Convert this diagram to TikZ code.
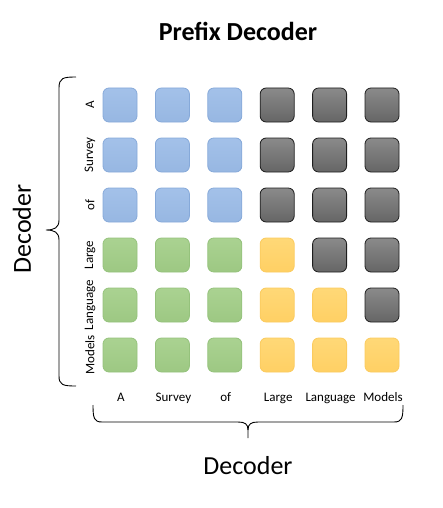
\documentclass[tikz,border=0pt]{standalone}
\usepackage{fontspec}
\setmainfont{Carlito}
\definecolor{bluefill}{HTML}{A3C1E9}
\definecolor{bluebot}{HTML}{97B7E2}
\definecolor{blueline}{HTML}{86A9D9}
\definecolor{greenfill}{HTML}{AAD291}
\definecolor{greenbot}{HTML}{9DC883}
\definecolor{greenline}{HTML}{95C27C}
\definecolor{yelfill}{HTML}{FFD877}
\definecolor{yelbot}{HTML}{FFD064}
\definecolor{yelline}{HTML}{FBCB5E}
\definecolor{grayfill}{HTML}{8A8A8A}
\definecolor{graybot}{HTML}{666666}
\definecolor{grayline}{HTML}{1E1E1E}
\tikzset{
  cell/.style={minimum width=34pt, minimum height=34pt, rounded corners=6pt, inner sep=0pt, line width=0.8pt},
  cb/.style={cell, draw=blueline, top color=bluefill, bottom color=bluebot},
  cg/.style={cell, draw=greenline, top color=greenfill, bottom color=greenbot},
  cy/.style={cell, draw=yelline, top color=yelfill, bottom color=yelbot},
  ck/.style={cell, draw=grayline, top color=grayfill, bottom color=graybot},
  lbl/.style={font=\fontsize{13}{15}\selectfont, inner sep=0pt},
  big/.style={font=\fontsize{26}{30}\selectfont, inner sep=0pt},
  bracel/.style={line width=0.9pt, black}
}
\begin{document}
\begin{tikzpicture}[x=1pt,y=-1pt]
\useasboundingbox (0,0) rectangle (442,508);
\node[big, font=\fontsize{26}{30}\selectfont\bfseries] (title) at (238,31) {Prefix Decoder};
% grid
\foreach \row/\styles [count=\r from 0] in {
  0/{cb,cb,cb,ck,ck,ck},
  1/{cb,cb,cb,ck,ck,ck},
  2/{cb,cb,cb,ck,ck,ck},
  3/{cg,cg,cg,cy,ck,ck},
  4/{cg,cg,cg,cy,cy,ck},
  5/{cg,cg,cg,cy,cy,cy}} {
  \foreach \st [count=\c from 0] in \styles {
    \node[\st] (b\r\c) at ({120+52.4*\c},{105+50*\r}) {};
  }
}
% row labels
\foreach \t [count=\r from 0] in {A,Survey,of,Large,Language,Models} {
  \node[lbl, rotate=90] (r\r) at (90,{105+50*\r}) {\t};
}
% column labels
\foreach \t [count=\c from 0] in {A,Survey,of,Large,Language,Models} {
  \node[lbl, anchor=base] (c\c) at ({121+52.4*\c},401) {\t};
}
% left brace
\coordinate (lt) at (76,77);
\coordinate (lb) at (76,386);
\coordinate (ltip) at (46,230);
\draw[bracel] (lt) .. controls (63,77) and (59,78) .. (59,88) -- (59,220)
  .. controls (59,228) and (54,230) .. (ltip)
  .. controls (54,230) and (59,232) .. (59,240) -- (59,376)
  .. controls (59,385) and (63,386) .. (lb);
\node[big, rotate=90] (dl) at (22,229) {Decoder};
% bottom brace
\coordinate (bl) at (93,405);
\coordinate (br) at (403,405);
\coordinate (btip) at (248,438);
\draw[bracel] (bl) .. controls (93,418) and (94,422) .. (102,422) -- (238,422)
  .. controls (245,422) and (248,424) .. (248,430) -- (btip);
\draw[bracel] (br) .. controls (403,418) and (402,422) .. (394,422) -- (258,422)
  .. controls (251,422) and (248,424) .. (248,430);
\node[big] (db) at (248,466) {Decoder};
\end{tikzpicture}
\end{document}
